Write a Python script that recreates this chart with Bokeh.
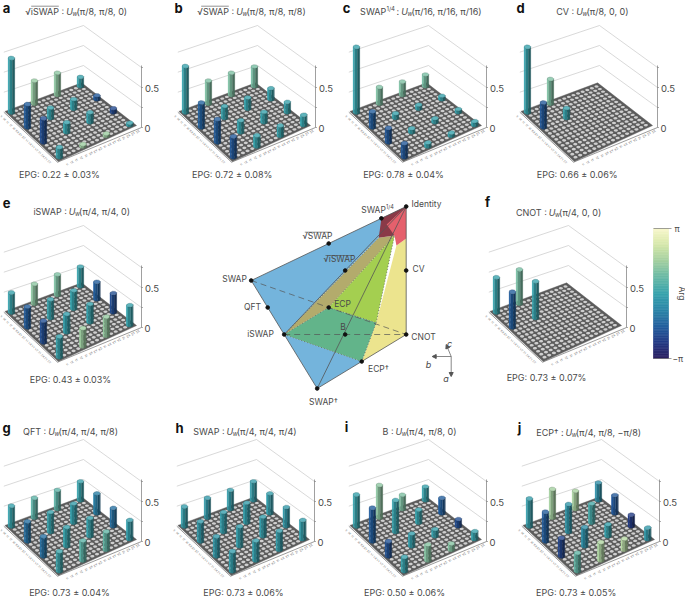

import math
from bokeh.plotting import figure
from bokeh.embed import file_html
from bokeh.resources import INLINE
from bokeh.core.properties import value
from bokeh.models import Arrow, NormalHead, Range1d

# ---------- bar data: rows i = 0,5,10,15 ; columns j = 0,5,10,15 ----------
LATTICE = [0, 5, 10, 15]
H_a = [[.68,.29,.28,.12],[.29,.13,.12,.05],[.30,.125,.125,.05],[.125,.03,.03,.03]]
P_a = [[0,1.4,1.3,0],[-1.6,0,0,-1.7],[-1.9,0,0,-2.0],[0,1.5,1.5,0]]
H_b = [[.58,.29,.28,.25],[.31,.15,.14,.14],[.29,.15,.13,.13],[.26,.14,.13,.13]]
P_b = [[0,1.1,1.1,1.0],[-1.5,0,0,0],[-1.6,0,0,0],[-1.7,0,0,0]]
H_c = [[.82,.21,.17,.15],[.20,.06,.05,.045],[.18,.05,.05,.04],[.175,.05,.04,.05]]
P_c = [[0,1.1,1.1,1.0],[-1.6,0,0,0],[-1.7,0,0,0],[-1.7,0,0,0]]
H_d = [[.82,.31,0,0],[.31,.125,0,0],[0,0,0,0],[0,0,0,0]]
P_d = [[0,1.1,0,0],[-1.7,0,0,0],[0,0,0,0],[0,0,0,0]]
H_e = [[.25,.25,.26,.25],[.26,.235,.23,.22],[.27,.23,.23,.24],[.26,.23,.24,.25]]
P_e = [[0,1.3,1.1,0],[-1.6,0,0,-1.6],[-1.9,-.1,0,-1.9],[0,1.5,1.4,0]]
H_f = [[.44,.43,0,0],[.445,.46,0,0],[0,0,0,0],[0,0,0,0]]
P_f = [[0,1.0,0,0],[-1.6,0,0,0],[0,0,0,0],[0,0,0,0]]
H_g = [[.26,.25,.24,.24],[.25,.25,.24,.25],[.25,.24,.23,.23],[.25,.25,.23,.24]]
P_g = [[0,.6,.6,0],[-1.2,0,-.1,-.9],[-1.2,0,0,-1.2],[.1,.6,.7,-.1]]
H_h = [[.25,.25,.24,.24],[.25,.25,.25,.25],[.25,.25,.245,.24],[.25,.25,.24,.24]]
P_h = [[-.1,-.2,-.1,-.1],[-.2,-.1,-.1,-.1],[-.2,-.1,-.1,-.2],[-.1,-.1,-.1,-.1]]
H_i = [[.40,.41,.18,.175],[.42,.40,.165,.195],[.19,.16,.09,.09],[.18,.20,.08,.10]]
P_i = [[0,1.3,1.1,0],[-1.6,0,0,-1.6],[-1.8,-.1,0,-1.9],[0,1.2,1.2,0]]
H_j = [[.35,.36,.23,.225],[.37,.35,.24,.23],[.23,.24,.15,.145],[.23,.23,.14,.145]]
P_j = [[-.1,1.6,1.7,-.5],[-1.6,-.3,.3,-1.7],[-2.1,-.5,0,-2.3],[.7,1.8,1.9,-.2]]

LETTERS = ["a","b","c","d","e","f","g","h","i","j"]
HEIGHTS = [H_a,H_b,H_c,H_d,H_e,H_f,H_g,H_h,H_i,H_j]
PHASES  = [P_a,P_b,P_c,P_d,P_e,P_f,P_g,P_h,P_i,P_j]
PRE  = ["√iSWAP :","√SWAP :",":","CV :","iSWAP :","CNOT :","QFT :","SWAP :","B :","ECP† :"]
ARGS = ["(π/8, π/8, 0)","(π/8, π/8, π/8)","(π/16, π/16, π/16)","(π/8, 0, 0)","(π/4, π/4, 0)",
        "(π/4, 0, 0)","(π/4, π/4, π/8)","(π/4, π/4, π/4)","(π/4, π/8, 0)","(π/4, π/8, −π/8)"]
EPG  = ["EPG: 0.22 ± 0.03%","EPG: 0.72 ± 0.08%","EPG: 0.78 ± 0.04%","EPG: 0.66 ± 0.06%","EPG: 0.43 ± 0.03%",
        "EPG: 0.73 ± 0.07%","EPG: 0.73 ± 0.04%","EPG: 0.73 ± 0.06%","EPG: 0.50 ± 0.06%","EPG: 0.73 ± 0.05%"]
PAULI = [a+b for a in "IXYZ" for b in "IXYZ"]
ZTICKS = [0, .25, .5, .75]
ZLABELS = {0:"0", .5:"0.5"}

# layout of panels (page pixels)
OFF_X = [0,174,345,516,0,485,0,173,345,518]
OFF_Y = [0,0,0,0,200,200,414,414,414,414]
U_X   = [65.7,235.7,400.7,575.7,68.3,548.3,47.7,226,395,565]
T_Y   = [11,11,11,11,211,211.5,431,431,431,431.5]
EPG_X = [59,231.7,403,576.7,70,546,69,243,404,575.7]
EPG_Y = [174,174,174,174,379,377,592,592,592,592]
LET_X = [6,178,346,520,6,487,6,179,346,519]
LET_Y = [7,7,7,7,202,201,427,427,426,427]

# Colour scale for Arg
ARG_STOPS = ["#2b1e5f","#253a85","#24609f","#2c86a8","#38a3ad","#68b9a6","#a2cfa0","#d5e7aa","#f9f8cc"]
def h2r(h): return tuple(int(h[k:k+2],16) for k in (1,3,5))
def r2h(c): return "#%02x%02x%02x" % tuple(max(0,min(255,int(round(v)))) for v in c)
def arg_rgb(a):
    t = (a+math.pi)/(2*math.pi)*(len(ARG_STOPS)-1)
    k = min(int(t), len(ARG_STOPS)-2); f = t-k
    c0,c1 = h2r(ARG_STOPS[k]),h2r(ARG_STOPS[k+1])
    return tuple(c0[n]+(c1[n]-c0[n])*f for n in range(3))

# Base projection of the floor
C00,C150,C1515,C015 = (11,112),(59,156.7),(129.3,124.7),(80,86)
FRAME_L,FRAME_F,FRAME_R,FRAME_B = (3.3,111.7),(57,161.7),(139.5,127),(83,85)
ZPX = 80.0
def floor(i,j,ox,oy):
    u,v = i/15.0,j/15.0
    x = (1-u)*(1-v)*C00[0]+u*(1-v)*C150[0]+u*v*C1515[0]+(1-u)*v*C015[0]
    y = (1-u)*(1-v)*C00[1]+u*(1-v)*C150[1]+u*v*C1515[1]+(1-u)*v*C015[1]
    return x+ox,y+oy

p = figure(width=685,height=597,output_backend="svg",toolbar_location=None,
           x_range=Range1d(0,685),y_range=Range1d(597,0),min_border=0,outline_line_color=None)
p.axis.visible=False; p.grid.visible=False
FONT = value("Inter")
TXT = "#4a4a4a"

def txt(xs,ys,ss,size="9px",color=TXT,align="center",base="middle",style="normal",angle=0,font=FONT):
    p.text(x=xs,y=ys,text=ss,text_font=font,text_font_size=size,text_color=color,
           text_align=align,text_baseline=base,text_font_style=style,angle=angle)

OCT = [math.radians(22.5+45*k) for k in range(8)]
for n in range(10):
    ox,oy = OFF_X[n],OFF_Y[n]
    L,F,R,B = [(c[0]+ox,c[1]+oy) for c in (FRAME_L,FRAME_F,FRAME_R,FRAME_B)]
    wx,wy=[],[]
    for z in ZTICKS[1:]:
        d = z*ZPX
        wx.append([L[0],B[0],R[0]+1.5]); wy.append([L[1]-d,B[1]-d,R[1]-d])
    p.multi_line(wx,wy,line_color="#c9c9c9",line_width=0.7)
    p.multi_line([[L[0],F[0],R[0]+1.5]],[[L[1],F[1],R[1]]],line_color="#555555",line_width=0.6)
    p.line([R[0]+1.5,R[0]+1.5],[R[1],R[1]-.75*ZPX-2],line_color="#777777",line_width=0.7)
    p.segment([R[0]+1.5]*4,[R[1]-z*ZPX for z in ZTICKS],[R[0]+3]*4,[R[1]-z*ZPX for z in ZTICKS],line_color="#777777",line_width=0.6)
    for z,s in ZLABELS.items():
        txt([R[0]+(4.5 if z==0 else 5)],[R[1]-z*ZPX+1],[s],size="9.5px",align="left")
    e0,e1=-.85,15.85
    corners=[floor(e0,e0,ox,oy),floor(e1,e0,ox,oy),floor(e1,e1,ox,oy),floor(e0,e1,ox,oy)]
    p.patch([c[0] for c in corners],[c[1] for c in corners],fill_color="#5c5c5c",line_color="#5c5c5c",line_width=0.4)
    txs,tys=[],[]
    for i in range(16):
        for j in range(16):
            pts=[floor(i+.38*math.cos(a),j+.38*math.sin(a),ox,oy) for a in OCT]
            txs.append([q[0] for q in pts]); tys.append([q[1] for q in pts])
    p.patches(txs,tys,fill_color="#cfcfcf",line_color=None)
    cells=[(r,c) for r in range(4) for c in range(4) if HEIGHTS[n][r][c]>0.005]
    cells.sort(key=lambda rc:(LATTICE[rc[0]]-LATTICE[rc[1]]))
    for r,c in cells:
        i,j=LATTICE[r],LATTICE[c]; h=HEIGHTS[n][r][c]*ZPX; rgb=arg_rgb(PHASES[n][r][c])
        rad=.6
        vs=[floor(i+rad*math.cos(a),j+rad*math.sin(a),ox,oy) for a in OCT]
        fx,fy,fc=[],[],[]
        for k in range(8):
            th=math.radians(45*(k+1))
            ni,nj=math.cos(th),math.sin(th)
            if ni-nj<=-0.01: continue
            a,b=vs[k],vs[(k+1)%8]
            s=.78-0.30*(ni+nj)/math.sqrt(2)
            fx.append([a[0],b[0],b[0],a[0]]); fy.append([a[1],b[1],b[1]-h,a[1]-h])
            fc.append(r2h(tuple(v*s for v in rgb)))
        p.patches(fx,fy,fill_color=fc,line_color=fc,line_width=0.2)
        p.patch([q[0] for q in vs],[q[1]-h for q in vs],
                fill_color=r2h(tuple(v*.8+255*.2 for v in rgb)),line_color=r2h(tuple(v*.6 for v in rgb)),line_width=0.3)
    lx,ly,rx,ry=[],[],[],[]
    for k in range(16):
        a=floor(k,-2.2,ox,oy); lx.append(a[0]); ly.append(a[1])
        b=floor(17.4,k,ox,oy); rx.append(b[0]); ry.append(b[1])
    txt(lx,ly,PAULI,size="3px",color="#666666",angle=math.radians(-40))
    txt(rx,ry,PAULI,size="3px",color="#666666",angle=math.radians(40))
    u=U_X[n]; ty=T_Y[n]
    txt([u-2],[ty],[PRE[n]],align="right")
    txt([u],[ty],["U"],align="left",style="italic")
    txt([u+6.3],[ty+2.2],["w"],size="6px",align="left",style="italic")
    txt([u+10.3],[ty],[ARGS[n]],align="left")
    txt([EPG_X[n]],[EPG_Y[n]],[EPG[n]])
    txt([LET_X[n]],[LET_Y[n]],[LETTERS[n]],size="13px",color="#111111",style="bold")

p.segment([30.7,200.7],[5.7,5.7],[58.3,228.3],[5.7,5.7],line_color=TXT,line_width=.6)
txt([385.7],[11],["SWAP"],align="right")
txt([386],[8],["1/4"],size="6px",align="left")

# ---------- Weyl chamber: (a,b,c) in units of pi/4 ----------
W_O,W_A,W_B,W_C = (405.7,206),(0,128),(-122,0),(-33,-54)
def W(pt):
    a,b,c=pt
    return (W_O[0]+a*W_A[0]+b*W_B[0]+c*W_C[0], W_O[1]+a*W_A[1]+b*W_B[1]+c*W_C[1])
IDENT=(0,0,0); CNOT=(1,0,0); ISWAP=(1,1,0); SWAP=(1,1,1); SWAPD=(1,1,-1)
SQSWAP=(.5,.5,.5); SQISWAP=(.5,.5,0); SWAP14=(.16,.16,.16); CV=(.5,0,0); QFT=(1,1,.5)
BGATE=(1,.5,0); ECP=(1,.5,.5); ECPD=(1,.5,-.5)
H1=(.245,.225,0); H2=(.227,.096,0); H3=(.305,.08,0); H4=(.25,0,0); H5=(.908,.246,0); H6=(.14,.16,0)
FACES=[([SWAP,IDENT,H1,ISWAP],"#74b4dc"),
       ([ISWAP,ECPD,SWAPD],"#74b4dc"),
       ([ECPD,CNOT,H4,H3,H5],"#ece48e"),
       ([ISWAP,H1,H2,ECP],"#b3ab6c"),
       ([ECP,H2,H5],"#a4cf50"),
       ([ISWAP,ECP,H5,ECPD],"#62b48a"),
       ([SWAP14,IDENT,H2,H1],"#8a3a48"),
       ([IDENT,H4,H3,H2,H6],"#e5606c")]
for pts,col in FACES:
    q=[W(t) for t in pts]
    p.patch([t[0] for t in q],[t[1] for t in q],fill_color=col,line_color=None)
def seg(pairs,**kw):
    a=[W(t[0]) for t in pairs]; b=[W(t[1]) for t in pairs]
    p.segment([t[0] for t in a],[t[1] for t in a],[t[0] for t in b],[t[1] for t in b],**kw)
seg([(ISWAP,ECPD),(ECPD,H5),(H5,H2),(ECP,H2),(ISWAP,ECP),(ECP,H5),(ISWAP,H1)],line_color="#555555",line_width=.7,line_dash="1 2")
seg([(SWAP,CNOT),(ISWAP,CNOT)],line_color="#555555",line_width=.7,line_dash="6 4")
seg([(SWAP,IDENT),(SWAP,SWAPD),(SWAPD,CNOT),(CNOT,IDENT),(ISWAP,IDENT),(SWAPD,IDENT)],line_color="#555555",line_width=.8)
GATES=[IDENT,CNOT,ISWAP,SWAP,SWAPD,SQSWAP,SQISWAP,SWAP14,CV,QFT,BGATE,ECP,ECPD]
g=[W(t) for t in GATES]
p.scatter([t[0] for t in g],[t[1] for t in g],size=3.6,color="#111111")

WL_TEXT=["Identity","SWAP","√SWAP","√iSWAP","SWAP","QFT","iSWAP","ECP","B","CNOT","CV","ECP†","SWAP†"]
WL_X=[426,373,317,339,234,252,260,342,342.5,423,418,378,323]
WL_Y=[203,209,235.5,258.5,278.5,306,333.5,303.5,326.5,336,268,368,401]
txt(WL_X,WL_Y,WL_TEXT,size="8.5px")
txt([385.5],[206.5],["1/4"],size="5.5px",align="left")
p.segment([304.3,325],[231.7,255],[330,353.3],[231.7,255],line_color=TXT,line_width=.6)

for dx,dy in [(0,20),(-19,0),(-5,-12)]:
    p.add_layout(Arrow(end=NormalHead(size=4,fill_color="#555555",line_color="#555555"),
                       x_start=450.7,y_start=356,x_end=450.7+dx,y_end=356+dy,line_color="#555555",line_width=.7))
txt([445.5,428,449],[378,364,343],["a","b","c"],size="9px",style="italic")

CB_STEPS=[-math.pi+2*math.pi*k/80 for k in range(81)]
y_of=lambda a:358-(a+math.pi)/(2*math.pi)*130
cb_c=[r2h(arg_rgb((CB_STEPS[k]+CB_STEPS[k+1])/2)) for k in range(80)]
p.quad(left=653,right=668,bottom=[y_of(CB_STEPS[k]) for k in range(80)],top=[y_of(CB_STEPS[k+1]) for k in range(80)],
       fill_color=cb_c,line_color=cb_c,line_width=.6)
p.segment([653,653],[y_of(math.pi),y_of(-math.pi)],[671,671],[y_of(math.pi),y_of(-math.pi)],line_color="#777777",line_width=.7)
txt([674,672],[y_of(math.pi),y_of(-math.pi)],["π","−π"],size="8.5px",align="left")
txt([681],[293],["Arg"],size="8.5px",angle=-math.pi/2)

open("out.html","w").write(file_html(p,INLINE))
